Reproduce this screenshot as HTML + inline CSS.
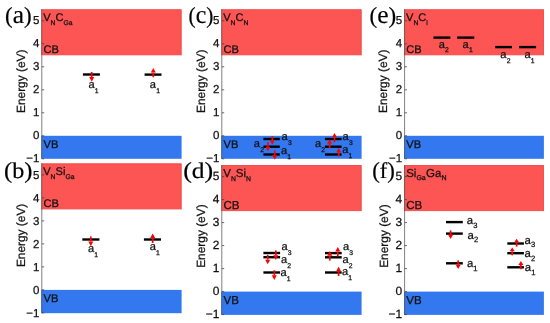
<!DOCTYPE html><html><head><meta charset="utf-8"><title>Figure</title><style>html,body{margin:0;padding:0;background:#fff}svg{display:block}text{font-family:"Liberation Sans",Arial,sans-serif;fill:#111;stroke:#111;stroke-width:0.25px;text-rendering:geometricPrecision}.pl{font-family:"Liberation Serif","Times New Roman",serif;font-size:23px;fill:#000;stroke:#000;stroke-width:0.2px}.s{font-size:6.8px}.s2{font-size:7.6px}</style></head><body>
<svg width="550" height="323" viewBox="0 0 550 323">
<rect width="550" height="323" fill="#fff"/>
<rect x="41.2" y="9.3" width="140.4" height="46.0" fill="#fd5454"/>
<path d="M41.2 9.7 H181.20000000000002 V55.3" fill="none" stroke="#e83838" stroke-width="0.8" opacity="0.55"/>
<rect x="41.2" y="135.8" width="140.4" height="23.0" fill="#3378ee"/>
<line x1="41.800000000000004" y1="9.3" x2="41.800000000000004" y2="158.8" stroke="#555" stroke-width="1" opacity="0.75"/>
<line x1="41.800000000000004" y1="158.8" x2="44.2" y2="158.8" stroke="#444" stroke-width="0.8"/>
<text x="39.400000000000006" y="162.4" font-size="11.50" text-anchor="end">−1</text>
<line x1="41.800000000000004" y1="135.8" x2="44.2" y2="135.8" stroke="#444" stroke-width="0.8"/>
<text x="39.400000000000006" y="139.4" font-size="11.50" text-anchor="end">0</text>
<line x1="41.800000000000004" y1="112.8" x2="44.2" y2="112.8" stroke="#444" stroke-width="0.8"/>
<text x="39.400000000000006" y="116.4" font-size="11.50" text-anchor="end">1</text>
<line x1="41.800000000000004" y1="89.8" x2="44.2" y2="89.8" stroke="#444" stroke-width="0.8"/>
<text x="39.400000000000006" y="93.4" font-size="11.50" text-anchor="end">2</text>
<line x1="41.800000000000004" y1="66.8" x2="44.2" y2="66.8" stroke="#444" stroke-width="0.8"/>
<text x="39.400000000000006" y="70.4" font-size="11.50" text-anchor="end">3</text>
<line x1="41.800000000000004" y1="43.8" x2="44.2" y2="43.8" stroke="#444" stroke-width="0.8"/>
<text x="39.400000000000006" y="47.4" font-size="11.50" text-anchor="end">4</text>
<line x1="41.800000000000004" y1="20.8" x2="44.2" y2="20.8" stroke="#444" stroke-width="0.8"/>
<text x="39.400000000000006" y="24.4" font-size="11.50" text-anchor="end">5</text>
<text transform="translate(24.6,81.3) rotate(-90)" font-size="11.9" text-anchor="middle">Energy (eV)</text>
<text class="pl" transform="translate(5.1,23.2) scale(1.0,1)">(<tspan font-size="25.5">a</tspan>)</text>
<text x="43.2" y="20.7" font-size="11.10">V<tspan class="s" dy="4.5">N</tspan><tspan dy="-4.5">C</tspan><tspan class="s" dy="4.6">Ga</tspan></text>
<text x="43.5" y="52.7" font-size="11.10">CB</text>
<text x="43.5" y="148.1" font-size="11.10">VB</text>
<rect x="41.2" y="163.4" width="140.4" height="46.0" fill="#fd5454"/>
<path d="M41.2 163.8 H181.20000000000002 V209.4" fill="none" stroke="#e83838" stroke-width="0.8" opacity="0.55"/>
<rect x="41.2" y="289.9" width="140.4" height="23.3" fill="#3378ee"/>
<line x1="41.800000000000004" y1="163.4" x2="41.800000000000004" y2="312.9" stroke="#555" stroke-width="1" opacity="0.75"/>
<line x1="41.800000000000004" y1="312.9" x2="44.2" y2="312.9" stroke="#444" stroke-width="0.8"/>
<text x="39.400000000000006" y="316.5" font-size="11.50" text-anchor="end">−1</text>
<line x1="41.800000000000004" y1="289.9" x2="44.2" y2="289.9" stroke="#444" stroke-width="0.8"/>
<text x="39.400000000000006" y="293.5" font-size="11.50" text-anchor="end">0</text>
<line x1="41.800000000000004" y1="266.9" x2="44.2" y2="266.9" stroke="#444" stroke-width="0.8"/>
<text x="39.400000000000006" y="270.5" font-size="11.50" text-anchor="end">1</text>
<line x1="41.800000000000004" y1="243.9" x2="44.2" y2="243.9" stroke="#444" stroke-width="0.8"/>
<text x="39.400000000000006" y="247.5" font-size="11.50" text-anchor="end">2</text>
<line x1="41.800000000000004" y1="220.9" x2="44.2" y2="220.9" stroke="#444" stroke-width="0.8"/>
<text x="39.400000000000006" y="224.5" font-size="11.50" text-anchor="end">3</text>
<line x1="41.800000000000004" y1="197.9" x2="44.2" y2="197.9" stroke="#444" stroke-width="0.8"/>
<text x="39.400000000000006" y="201.5" font-size="11.50" text-anchor="end">4</text>
<line x1="41.800000000000004" y1="174.9" x2="44.2" y2="174.9" stroke="#444" stroke-width="0.8"/>
<text x="39.400000000000006" y="178.5" font-size="11.50" text-anchor="end">5</text>
<text transform="translate(24.6,235.4) rotate(-90)" font-size="11.9" text-anchor="middle">Energy (eV)</text>
<text class="pl" transform="translate(4.0,177.8) scale(1.07,1)">(<tspan font-size="22.5">b</tspan>)</text>
<text x="43.2" y="174.8" font-size="11.10">V<tspan class="s" dy="4.5">N</tspan><tspan dy="-4.5">Si</tspan><tspan class="s" dy="4.6">Ga</tspan></text>
<text x="43.5" y="206.8" font-size="11.10">CB</text>
<text x="43.5" y="302.2" font-size="11.10">VB</text>
<rect x="221.2" y="9.3" width="140.4" height="46.0" fill="#fd5454"/>
<path d="M221.2 9.7 H361.20000000000005 V55.3" fill="none" stroke="#e83838" stroke-width="0.8" opacity="0.55"/>
<rect x="221.2" y="135.8" width="140.4" height="23.0" fill="#3378ee"/>
<line x1="221.79999999999998" y1="9.3" x2="221.79999999999998" y2="158.8" stroke="#555" stroke-width="1" opacity="0.75"/>
<line x1="221.79999999999998" y1="158.8" x2="224.2" y2="158.8" stroke="#444" stroke-width="0.8"/>
<text x="219.39999999999998" y="162.4" font-size="11.50" text-anchor="end">−1</text>
<line x1="221.79999999999998" y1="135.8" x2="224.2" y2="135.8" stroke="#444" stroke-width="0.8"/>
<text x="219.39999999999998" y="139.4" font-size="11.50" text-anchor="end">0</text>
<line x1="221.79999999999998" y1="112.8" x2="224.2" y2="112.8" stroke="#444" stroke-width="0.8"/>
<text x="219.39999999999998" y="116.4" font-size="11.50" text-anchor="end">1</text>
<line x1="221.79999999999998" y1="89.8" x2="224.2" y2="89.8" stroke="#444" stroke-width="0.8"/>
<text x="219.39999999999998" y="93.4" font-size="11.50" text-anchor="end">2</text>
<line x1="221.79999999999998" y1="66.8" x2="224.2" y2="66.8" stroke="#444" stroke-width="0.8"/>
<text x="219.39999999999998" y="70.4" font-size="11.50" text-anchor="end">3</text>
<line x1="221.79999999999998" y1="43.8" x2="224.2" y2="43.8" stroke="#444" stroke-width="0.8"/>
<text x="219.39999999999998" y="47.4" font-size="11.50" text-anchor="end">4</text>
<line x1="221.79999999999998" y1="20.8" x2="224.2" y2="20.8" stroke="#444" stroke-width="0.8"/>
<text x="219.39999999999998" y="24.4" font-size="11.50" text-anchor="end">5</text>
<text transform="translate(204.6,81.3) rotate(-90)" font-size="11.9" text-anchor="middle">Energy (eV)</text>
<text class="pl" transform="translate(188.6,23.2) scale(0.93,1)">(<tspan font-size="25.5">c</tspan>)</text>
<text x="223.2" y="20.7" font-size="11.10">V<tspan class="s" dy="4.5">N</tspan><tspan dy="-4.5">C</tspan><tspan class="s" dy="4.6">N</tspan></text>
<text x="223.5" y="52.7" font-size="11.10">CB</text>
<text x="223.5" y="148.1" font-size="11.10">VB</text>
<rect x="221.2" y="165.1" width="140.4" height="46.0" fill="#fd5454"/>
<path d="M221.2 165.5 H361.20000000000005 V211.1" fill="none" stroke="#e83838" stroke-width="0.8" opacity="0.55"/>
<rect x="221.2" y="291.6" width="140.4" height="23.3" fill="#3378ee"/>
<line x1="221.79999999999998" y1="165.1" x2="221.79999999999998" y2="314.6" stroke="#555" stroke-width="1" opacity="0.75"/>
<line x1="221.79999999999998" y1="314.6" x2="224.2" y2="314.6" stroke="#444" stroke-width="0.8"/>
<text x="219.39999999999998" y="318.3" font-size="11.96" text-anchor="end">−1</text>
<line x1="221.79999999999998" y1="291.6" x2="224.2" y2="291.6" stroke="#444" stroke-width="0.8"/>
<text x="219.39999999999998" y="295.3" font-size="11.96" text-anchor="end">0</text>
<line x1="221.79999999999998" y1="268.6" x2="224.2" y2="268.6" stroke="#444" stroke-width="0.8"/>
<text x="219.39999999999998" y="272.3" font-size="11.96" text-anchor="end">1</text>
<line x1="221.79999999999998" y1="245.6" x2="224.2" y2="245.6" stroke="#444" stroke-width="0.8"/>
<text x="219.39999999999998" y="249.3" font-size="11.96" text-anchor="end">2</text>
<line x1="221.79999999999998" y1="222.6" x2="224.2" y2="222.6" stroke="#444" stroke-width="0.8"/>
<text x="219.39999999999998" y="226.3" font-size="11.96" text-anchor="end">3</text>
<line x1="221.79999999999998" y1="199.6" x2="224.2" y2="199.6" stroke="#444" stroke-width="0.8"/>
<text x="219.39999999999998" y="203.3" font-size="11.96" text-anchor="end">4</text>
<line x1="221.79999999999998" y1="176.6" x2="224.2" y2="176.6" stroke="#444" stroke-width="0.8"/>
<text x="219.39999999999998" y="180.3" font-size="11.96" text-anchor="end">5</text>
<text transform="translate(205.2,236.1) rotate(-90)" font-size="11.9" text-anchor="middle">Energy (eV)</text>
<text class="pl" transform="translate(183.2,177.8) scale(1.13,1)">(<tspan font-size="22.5">d</tspan>)</text>
<text x="223.2" y="176.5" font-size="11.54">V<tspan class="s" dy="4.5">N</tspan><tspan dy="-4.5">Si</tspan><tspan class="s" dy="4.6">N</tspan></text>
<text x="223.5" y="208.5" font-size="11.54">CB</text>
<text x="223.5" y="303.9" font-size="11.54">VB</text>
<rect x="404.0" y="9.3" width="139.9" height="46.0" fill="#fd5454"/>
<path d="M404.0 9.7 H543.5 V55.3" fill="none" stroke="#e83838" stroke-width="0.8" opacity="0.55"/>
<rect x="404.0" y="135.8" width="139.9" height="23.0" fill="#3378ee"/>
<line x1="404.6" y1="9.3" x2="404.6" y2="158.8" stroke="#555" stroke-width="1" opacity="0.75"/>
<line x1="404.6" y1="158.8" x2="407.0" y2="158.8" stroke="#444" stroke-width="0.8"/>
<text x="402.2" y="162.4" font-size="11.50" text-anchor="end">−1</text>
<line x1="404.6" y1="135.8" x2="407.0" y2="135.8" stroke="#444" stroke-width="0.8"/>
<text x="402.2" y="139.4" font-size="11.50" text-anchor="end">0</text>
<line x1="404.6" y1="112.8" x2="407.0" y2="112.8" stroke="#444" stroke-width="0.8"/>
<text x="402.2" y="116.4" font-size="11.50" text-anchor="end">1</text>
<line x1="404.6" y1="89.8" x2="407.0" y2="89.8" stroke="#444" stroke-width="0.8"/>
<text x="402.2" y="93.4" font-size="11.50" text-anchor="end">2</text>
<line x1="404.6" y1="66.8" x2="407.0" y2="66.8" stroke="#444" stroke-width="0.8"/>
<text x="402.2" y="70.4" font-size="11.50" text-anchor="end">3</text>
<line x1="404.6" y1="43.8" x2="407.0" y2="43.8" stroke="#444" stroke-width="0.8"/>
<text x="402.2" y="47.4" font-size="11.50" text-anchor="end">4</text>
<line x1="404.6" y1="20.8" x2="407.0" y2="20.8" stroke="#444" stroke-width="0.8"/>
<text x="402.2" y="24.4" font-size="11.50" text-anchor="end">5</text>
<text transform="translate(387.4,81.3) rotate(-90)" font-size="11.9" text-anchor="middle">Energy (eV)</text>
<text class="pl" transform="translate(369.5,23.2) scale(1.0,1)">(<tspan font-size="25.5">e</tspan>)</text>
<text x="406.0" y="20.7" font-size="11.10">V<tspan class="s" dy="4.5">N</tspan><tspan dy="-4.5">C</tspan><tspan class="s" dy="4.6">i</tspan></text>
<text x="406.3" y="52.7" font-size="11.10">CB</text>
<text x="406.3" y="148.1" font-size="11.10">VB</text>
<rect x="404.0" y="165.1" width="139.9" height="46.0" fill="#fd5454"/>
<path d="M404.0 165.5 H543.5 V211.1" fill="none" stroke="#e83838" stroke-width="0.8" opacity="0.55"/>
<rect x="404.0" y="291.6" width="139.9" height="23.3" fill="#3378ee"/>
<line x1="404.6" y1="165.1" x2="404.6" y2="314.6" stroke="#555" stroke-width="1" opacity="0.75"/>
<line x1="404.6" y1="314.6" x2="407.0" y2="314.6" stroke="#444" stroke-width="0.8"/>
<text x="402.2" y="318.3" font-size="11.96" text-anchor="end">−1</text>
<line x1="404.6" y1="291.6" x2="407.0" y2="291.6" stroke="#444" stroke-width="0.8"/>
<text x="402.2" y="295.3" font-size="11.96" text-anchor="end">0</text>
<line x1="404.6" y1="268.6" x2="407.0" y2="268.6" stroke="#444" stroke-width="0.8"/>
<text x="402.2" y="272.3" font-size="11.96" text-anchor="end">1</text>
<line x1="404.6" y1="245.6" x2="407.0" y2="245.6" stroke="#444" stroke-width="0.8"/>
<text x="402.2" y="249.3" font-size="11.96" text-anchor="end">2</text>
<line x1="404.6" y1="222.6" x2="407.0" y2="222.6" stroke="#444" stroke-width="0.8"/>
<text x="402.2" y="226.3" font-size="11.96" text-anchor="end">3</text>
<line x1="404.6" y1="199.6" x2="407.0" y2="199.6" stroke="#444" stroke-width="0.8"/>
<text x="402.2" y="203.3" font-size="11.96" text-anchor="end">4</text>
<line x1="404.6" y1="176.6" x2="407.0" y2="176.6" stroke="#444" stroke-width="0.8"/>
<text x="402.2" y="180.3" font-size="11.96" text-anchor="end">5</text>
<text transform="translate(388.0,236.1) rotate(-90)" font-size="11.9" text-anchor="middle">Energy (eV)</text>
<text class="pl" transform="translate(372.2,177.8) scale(0.99,1)">(<tspan font-size="22.5">f</tspan>)</text>
<text x="406.2" y="176.7" font-size="11.5">Si<tspan font-size="7" dy="3.2">Ga</tspan><tspan dx="0.3" dy="-3.2">Ga</tspan><tspan font-size="7" dy="3.1">N</tspan></text>
<text x="406.3" y="208.5" font-size="11.54">CB</text>
<text x="406.3" y="303.9" font-size="11.54">VB</text>
<line x1="82.9" y1="74.5" x2="99.9" y2="74.5" stroke="#000" stroke-width="2.4"/>
<path d="M91.7 72 L91.7 77.0" stroke="#f00" stroke-width="1.7" fill="none"/><path d="M89.2 77.0 L94.2 77.0 L91.7 81.8 Z" fill="#f00"/>
<text x="88.5" y="88.4" font-size="11.1">a<tspan class="s" dx="0.2" dy="5.0">1</tspan></text>
<line x1="144.6" y1="74.6" x2="161.5" y2="74.6" stroke="#000" stroke-width="2.4"/>
<path d="M153.3 77.3 L153.3 72.557" stroke="#f00" stroke-width="1.7" fill="none"/><path d="M150.8 72.557 L155.8 72.557 L153.3 68 Z" fill="#f00"/>
<text x="149.8" y="88.2" font-size="11.1">a<tspan class="s" dx="0.2" dy="5.0">1</tspan></text>
<line x1="82.3" y1="239.5" x2="99.4" y2="239.5" stroke="#000" stroke-width="2.4"/>
<path d="M90.8 236.4 L90.8 241.5" stroke="#f00" stroke-width="1.7" fill="none"/><path d="M88.3 241.5 L93.3 241.5 L90.8 246.3 Z" fill="#f00"/>
<text x="88.0" y="252.0" font-size="11.1">a<tspan class="s" dx="0.2" dy="5.0">1</tspan></text>
<line x1="143.9" y1="239.5" x2="161" y2="239.5" stroke="#000" stroke-width="2.4"/>
<path d="M152.7 243 L152.7 238.104" stroke="#f00" stroke-width="1.7" fill="none"/><path d="M150.2 238.104 L155.2 238.104 L152.7 233.4 Z" fill="#f00"/>
<text x="149.7" y="249.5" font-size="11.1">a<tspan class="s" dx="0.2" dy="5.0">1</tspan></text>
<line x1="263.4" y1="139" x2="279.8" y2="139" stroke="#000" stroke-width="2.4"/>
<line x1="263.4" y1="146.7" x2="279.8" y2="146.7" stroke="#000" stroke-width="2.4"/>
<line x1="263.4" y1="154.5" x2="279.8" y2="154.5" stroke="#000" stroke-width="2.4"/>
<path d="M272.3 136.1 L272.3 140.537" stroke="#f00" stroke-width="1.7" fill="none"/><path d="M269.8 140.537 L274.8 140.537 L272.3 144.8 Z" fill="#f00"/>
<path d="M267.9 142.3 L267.9 146.839" stroke="#f00" stroke-width="1.7" fill="none"/><path d="M265.4 146.839 L270.4 146.839 L267.9 151.2 Z" fill="#f00"/>
<path d="M274.8 150.4 L274.8 155.143" stroke="#f00" stroke-width="1.7" fill="none"/><path d="M272.3 155.143 L277.3 155.143 L274.8 159.7 Z" fill="#f00"/>
<text x="281.6" y="140.0" font-size="11.1">a<tspan class="s" dx="0.2" dy="4.8">3</tspan></text>
<text x="253.8" y="147.3" font-size="11.1">a<tspan class="s" dx="0.2" dy="5.0">2</tspan></text>
<text x="280.9" y="153.5" font-size="11.1">a<tspan class="s" dx="0.2" dy="5.2">1</tspan></text>
<line x1="324.9" y1="139" x2="341.6" y2="139" stroke="#000" stroke-width="2.4"/>
<line x1="324.9" y1="146.7" x2="341.6" y2="146.7" stroke="#000" stroke-width="2.4"/>
<line x1="324.9" y1="154.5" x2="341.6" y2="154.5" stroke="#000" stroke-width="2.4"/>
<path d="M334.5 142.3 L334.5 137.55700000000002" stroke="#f00" stroke-width="1.7" fill="none"/><path d="M332.0 137.55700000000002 L337.0 137.55700000000002 L334.5 133 Z" fill="#f00"/>
<path d="M329.6 148.3 L329.6 143.659" stroke="#f00" stroke-width="1.7" fill="none"/><path d="M327.1 143.659 L332.1 143.659 L329.6 139.2 Z" fill="#f00"/>
<path d="M338.7 156.6 L338.7 152.163" stroke="#f00" stroke-width="1.7" fill="none"/><path d="M336.2 152.163 L341.2 152.163 L338.7 147.9 Z" fill="#f00"/>
<text x="342.6" y="140.1" font-size="11.1">a<tspan class="s" dx="0.2" dy="4.8">3</tspan></text>
<text x="314.9" y="147.3" font-size="11.1">a<tspan class="s" dx="0.2" dy="4.8">2</tspan></text>
<text x="342.2" y="153.2" font-size="11.1">a<tspan class="s" dx="0.2" dy="5.0">1</tspan></text>
<line x1="263.4" y1="253.0" x2="280.1" y2="253.0" stroke="#000" stroke-width="2.4"/>
<line x1="263.4" y1="257.2" x2="280.1" y2="257.2" stroke="#000" stroke-width="2.4"/>
<line x1="263.4" y1="272.5" x2="280.1" y2="272.5" stroke="#000" stroke-width="2.4"/>
<path d="M275.8 250.4 L275.8 255.296" stroke="#f00" stroke-width="1.7" fill="none"/><path d="M273.3 255.296 L278.3 255.296 L275.8 260 Z" fill="#f00"/>
<path d="M267.7 254.8 L267.7 259.64500000000004" stroke="#f00" stroke-width="1.7" fill="none"/><path d="M265.2 259.64500000000004 L270.2 259.64500000000004 L267.7 264.3 Z" fill="#f00"/>
<path d="M274.3 270.3 L274.3 275.19599999999997" stroke="#f00" stroke-width="1.7" fill="none"/><path d="M271.8 275.19599999999997 L276.8 275.19599999999997 L274.3 279.9 Z" fill="#f00"/>
<text x="281.4" y="250" font-size="11.1">a<tspan class="s" dx="0.2" dy="5.0">3</tspan></text>
<text x="280.9" y="262.7" font-size="11.1">a<tspan class="s" dx="0.2" dy="5.0">2</tspan></text>
<text x="280.4" y="275.5" font-size="11.1">a<tspan class="s" dx="0.2" dy="5.0">1</tspan></text>
<line x1="325" y1="253.1" x2="341.7" y2="253.1" stroke="#000" stroke-width="2.4"/>
<line x1="325" y1="257.3" x2="341.7" y2="257.3" stroke="#000" stroke-width="2.4"/>
<line x1="325" y1="272.5" x2="341.7" y2="272.5" stroke="#000" stroke-width="2.4"/>
<path d="M337.8 256.4 L337.8 251.606" stroke="#f00" stroke-width="1.7" fill="none"/><path d="M335.3 251.606 L340.3 251.606 L337.8 247 Z" fill="#f00"/>
<path d="M329.8 260.6 L329.8 255.755" stroke="#f00" stroke-width="1.7" fill="none"/><path d="M327.3 255.755 L332.3 255.755 L329.8 251.1 Z" fill="#f00"/>
<path d="M338.6 276 L338.6 271.308" stroke="#f00" stroke-width="1.7" fill="none"/><path d="M336.1 271.308 L341.1 271.308 L338.6 266.8 Z" fill="#f00"/>
<text x="342.9" y="250" font-size="11.1">a<tspan class="s" dx="0.2" dy="5.0">3</tspan></text>
<text x="342.5" y="262.7" font-size="11.1">a<tspan class="s" dx="0.2" dy="5.0">2</tspan></text>
<text x="341.9" y="275.2" font-size="11.1">a<tspan class="s" dx="0.2" dy="4.8">1</tspan></text>
<line x1="433.4" y1="37.6" x2="450.4" y2="37.6" stroke="#000" stroke-width="2.4"/>
<line x1="457.2" y1="37.6" x2="474.3" y2="37.6" stroke="#000" stroke-width="2.4"/>
<text x="438.7" y="47.7" font-size="11.1">a<tspan class="s" dx="0.2" dy="4.6">2</tspan></text>
<text x="462.6" y="47.7" font-size="11.1">a<tspan class="s" dx="0.2" dy="4.6">1</tspan></text>
<line x1="495.2" y1="47.1" x2="512" y2="47.1" stroke="#000" stroke-width="2.4"/>
<line x1="519.1" y1="47.1" x2="536.1" y2="47.1" stroke="#000" stroke-width="2.4"/>
<text x="500.3" y="57.5" font-size="11.1">a<tspan class="s" dx="0.2" dy="5.0">2</tspan></text>
<text x="524.5" y="57.5" font-size="11.1">a<tspan class="s" dx="0.2" dy="5.0">1</tspan></text>
<line x1="446" y1="222.1" x2="462.8" y2="222.1" stroke="#000" stroke-width="2.4"/>
<line x1="446" y1="233.6" x2="462.8" y2="233.6" stroke="#000" stroke-width="2.4"/>
<line x1="446" y1="263.3" x2="462.8" y2="263.3" stroke="#000" stroke-width="2.4"/>
<path d="M450.6 230.4 L450.6 234.786" stroke="#f00" stroke-width="1.7" fill="none"/><path d="M448.1 234.786 L453.1 234.786 L450.6 239.0 Z" fill="#f00"/>
<path d="M458.2 260.4 L458.2 264.73499999999996" stroke="#f00" stroke-width="1.7" fill="none"/><path d="M455.7 264.73499999999996 L460.7 264.73499999999996 L458.2 268.9 Z" fill="#f00"/>
<text x="466.8" y="224.2" font-size="11.4">a<tspan class="s2" dx="0.1" dy="3.5">3</tspan></text>
<text x="467.6" y="238.5" font-size="11.4">a<tspan class="s2" dx="0.1" dy="3.7">2</tspan></text>
<text x="466.9" y="266.8" font-size="11.4">a<tspan class="s2" dx="0.1" dy="4.1">1</tspan></text>
<line x1="507.3" y1="243.5" x2="523.9" y2="243.5" stroke="#000" stroke-width="2.4"/>
<line x1="507.3" y1="253.2" x2="523.9" y2="253.2" stroke="#000" stroke-width="2.4"/>
<line x1="507.3" y1="267.3" x2="523.9" y2="267.3" stroke="#000" stroke-width="2.4"/>
<path d="M516.6 246.6 L516.6 242.571" stroke="#f00" stroke-width="1.7" fill="none"/><path d="M514.1 242.571 L519.1 242.571 L516.6 238.7 Z" fill="#f00"/>
<path d="M512.2 255.3 L512.2 251.322" stroke="#f00" stroke-width="1.7" fill="none"/><path d="M509.70000000000005 251.322 L514.7 251.322 L512.2 247.5 Z" fill="#f00"/>
<path d="M520.9 269.3 L520.9 265.067" stroke="#f00" stroke-width="1.7" fill="none"/><path d="M518.4 265.067 L523.4 265.067 L520.9 261.0 Z" fill="#f00"/>
<text x="524.6" y="244.4" font-size="11.4">a<tspan class="s2" dx="0.1" dy="2.9">3</tspan></text>
<text x="524.6" y="257.3" font-size="11.4">a<tspan class="s2" dx="0.1" dy="3.5">2</tspan></text>
<text x="524.7" y="271.2" font-size="11.4">a<tspan class="s2" dx="0.1" dy="3.6">1</tspan></text>
</svg></body></html>
